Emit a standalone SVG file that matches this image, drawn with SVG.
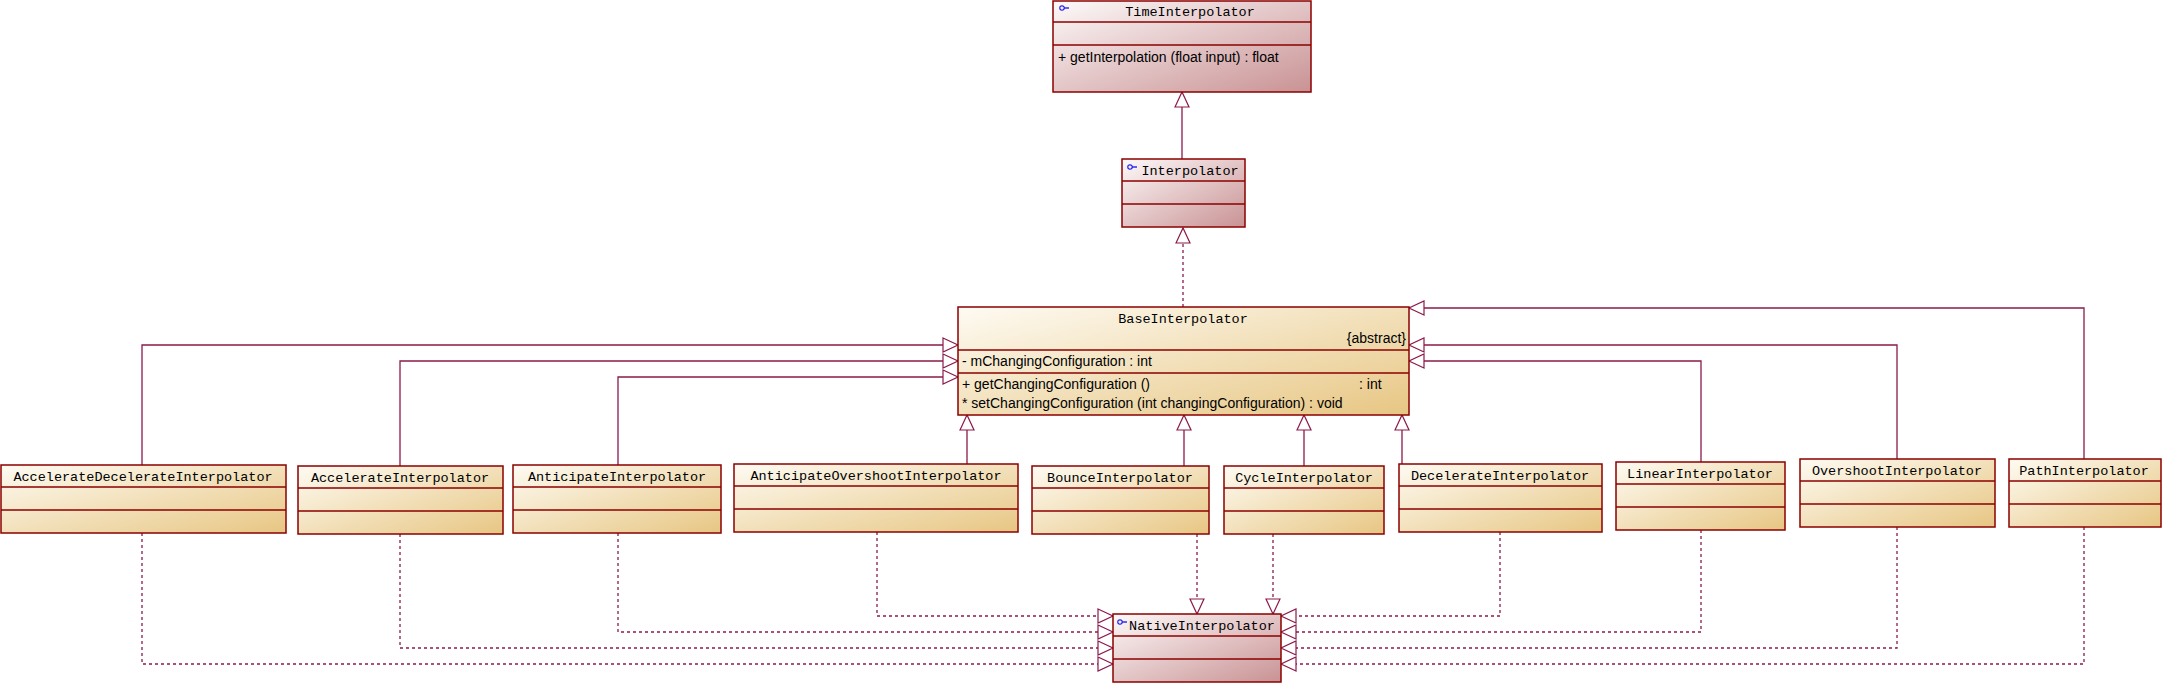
<svg xmlns="http://www.w3.org/2000/svg" width="2162" height="683" viewBox="0 0 2162 683">
<defs>
<linearGradient id="gp" x1="0" y1="0" x2="1" y2="1"><stop offset="0" stop-color="#fdf9f9"/><stop offset="1" stop-color="#c99294"/></linearGradient>
<linearGradient id="gy" x1="0" y1="0" x2="1" y2="1"><stop offset="0" stop-color="#fefbf3"/><stop offset="1" stop-color="#e7c683"/></linearGradient>
<marker id="tri" markerWidth="20" markerHeight="20" refX="16" refY="8" orient="auto" markerUnits="userSpaceOnUse"><path d="M1,1 L16,8 L1,15 Z" fill="#fff" stroke="#8b1a4b" stroke-width="1.2"/></marker>
<g id="icon"><circle cx="0" cy="0" r="2.2" fill="none" stroke="#2222ee" stroke-width="1.2"/><line x1="2" y1="0" x2="7" y2="0" stroke="#2222ee" stroke-width="1.4"/></g>
</defs>
<style>
.p{fill:url(#gp);stroke:#8b0000;stroke-width:1.5}
.y{fill:url(#gy);stroke:#8b0000;stroke-width:1.5}
.d{stroke:#8b0000;stroke-width:1.5}
.n{font-family:"Liberation Mono",monospace;font-size:13.5px;fill:#000;text-anchor:middle}
.m{font-family:"Liberation Sans",Arial,sans-serif;font-size:14px;fill:#000}
.c{fill:none;stroke:#8b1a4b;stroke-width:1.3}
.s{stroke-dasharray:3,3}
</style>
<g id="connectors">
<path class="c" d="M1182,159 V92" marker-end="url(#tri)"/>
<path class="c s" d="M1183,307 V228" marker-end="url(#tri)"/>
<path class="c" d="M142,465 V345 H958" marker-end="url(#tri)"/>
<path class="c" d="M400,466 V361 H958" marker-end="url(#tri)"/>
<path class="c" d="M618,465 V377 H958" marker-end="url(#tri)"/>
<path class="c" d="M967,464 V415" marker-end="url(#tri)"/>
<path class="c" d="M1184,466 V415" marker-end="url(#tri)"/>
<path class="c" d="M1304,466 V415" marker-end="url(#tri)"/>
<path class="c" d="M1402,464 V415" marker-end="url(#tri)"/>
<path class="c" d="M1701,462 V361 H1409" marker-end="url(#tri)"/>
<path class="c" d="M1897,459 V345 H1409" marker-end="url(#tri)"/>
<path class="c" d="M2084,459 V308 H1409" marker-end="url(#tri)"/>
<path class="c s" d="M877,532 V616 H1113" marker-end="url(#tri)"/>
<path class="c s" d="M618,533 V632 H1113" marker-end="url(#tri)"/>
<path class="c s" d="M400,534 V648 H1113" marker-end="url(#tri)"/>
<path class="c s" d="M142,533 V664 H1113" marker-end="url(#tri)"/>
<path class="c s" d="M1197,534 V614" marker-end="url(#tri)"/>
<path class="c s" d="M1273,534 V614" marker-end="url(#tri)"/>
<path class="c s" d="M1500,532 V616 H1281" marker-end="url(#tri)"/>
<path class="c s" d="M1701,530 V632 H1281" marker-end="url(#tri)"/>
<path class="c s" d="M1897,527 V648 H1281" marker-end="url(#tri)"/>
<path class="c s" d="M2084,527 V664 H1281" marker-end="url(#tri)"/>
</g>
<g id="TimeInterpolator"><rect class="p" x="1053" y="1" width="258" height="91"/><line class="d" x1="1053" y1="22" x2="1311" y2="22"/><line class="d" x1="1053" y1="45" x2="1311" y2="45"/><use href="#icon" x="1062" y="8"/><text class="n" x="1190" y="16">TimeInterpolator</text><text class="m" x="1058" y="62">+  getInterpolation (float input)  : float</text></g>
<g id="Interpolator"><rect class="p" x="1122" y="159" width="123" height="68"/><line class="d" x1="1122" y1="181" x2="1245" y2="181"/><line class="d" x1="1122" y1="204" x2="1245" y2="204"/><use href="#icon" x="1130" y="167"/><text class="n" x="1190" y="175">Interpolator</text></g>
<g id="BaseInterpolator"><rect class="y" x="958" y="307" width="451" height="108"/><line class="d" x1="958" y1="350" x2="1409" y2="350"/><line class="d" x1="958" y1="373" x2="1409" y2="373"/><text class="n" x="1183" y="323">BaseInterpolator</text><text class="m" x="1406" y="343" text-anchor="end">{abstract}</text><text class="m" x="962" y="366">-  mChangingConfiguration  : int</text><text class="m" x="962" y="389">+  getChangingConfiguration ()</text><text class="m" x="1359" y="389">: int</text><text class="m" x="962" y="408">*  setChangingConfiguration (int changingConfiguration)  : void</text></g>
<g id="AccelerateDecelerateInterpolator"><rect class="y" x="1" y="465" width="285" height="68"/><line class="d" x1="1" y1="487" x2="286" y2="487"/><line class="d" x1="1" y1="510" x2="286" y2="510"/><text class="n" x="143" y="481">AccelerateDecelerateInterpolator</text></g>
<g id="AccelerateInterpolator"><rect class="y" x="298" y="466" width="205" height="68"/><line class="d" x1="298" y1="488" x2="503" y2="488"/><line class="d" x1="298" y1="511" x2="503" y2="511"/><text class="n" x="400" y="482">AccelerateInterpolator</text></g>
<g id="AnticipateInterpolator"><rect class="y" x="513" y="465" width="208" height="68"/><line class="d" x1="513" y1="487" x2="721" y2="487"/><line class="d" x1="513" y1="510" x2="721" y2="510"/><text class="n" x="617" y="481">AnticipateInterpolator</text></g>
<g id="AnticipateOvershootInterpolator"><rect class="y" x="734" y="464" width="284" height="68"/><line class="d" x1="734" y1="486" x2="1018" y2="486"/><line class="d" x1="734" y1="509" x2="1018" y2="509"/><text class="n" x="876" y="480">AnticipateOvershootInterpolator</text></g>
<g id="BounceInterpolator"><rect class="y" x="1032" y="466" width="177" height="68"/><line class="d" x1="1032" y1="488" x2="1209" y2="488"/><line class="d" x1="1032" y1="511" x2="1209" y2="511"/><text class="n" x="1120" y="482">BounceInterpolator</text></g>
<g id="CycleInterpolator"><rect class="y" x="1224" y="466" width="160" height="68"/><line class="d" x1="1224" y1="488" x2="1384" y2="488"/><line class="d" x1="1224" y1="511" x2="1384" y2="511"/><text class="n" x="1304" y="482">CycleInterpolator</text></g>
<g id="DecelerateInterpolator"><rect class="y" x="1399" y="464" width="203" height="68"/><line class="d" x1="1399" y1="486" x2="1602" y2="486"/><line class="d" x1="1399" y1="509" x2="1602" y2="509"/><text class="n" x="1500" y="480">DecelerateInterpolator</text></g>
<g id="LinearInterpolator"><rect class="y" x="1616" y="462" width="169" height="68"/><line class="d" x1="1616" y1="484" x2="1785" y2="484"/><line class="d" x1="1616" y1="507" x2="1785" y2="507"/><text class="n" x="1700" y="478">LinearInterpolator</text></g>
<g id="OvershootInterpolator"><rect class="y" x="1800" y="459" width="195" height="68"/><line class="d" x1="1800" y1="481" x2="1995" y2="481"/><line class="d" x1="1800" y1="504" x2="1995" y2="504"/><text class="n" x="1897" y="475">OvershootInterpolator</text></g>
<g id="PathInterpolator"><rect class="y" x="2009" y="459" width="152" height="68"/><line class="d" x1="2009" y1="481" x2="2161" y2="481"/><line class="d" x1="2009" y1="504" x2="2161" y2="504"/><text class="n" x="2084" y="475">PathInterpolator</text></g>
<g id="NativeInterpolator"><rect class="p" x="1113" y="614" width="168" height="68"/><line class="d" x1="1113" y1="636" x2="1281" y2="636"/><line class="d" x1="1113" y1="659" x2="1281" y2="659"/><use href="#icon" x="1120" y="622"/><text class="n" x="1202" y="630">NativeInterpolator</text></g>
</svg>
